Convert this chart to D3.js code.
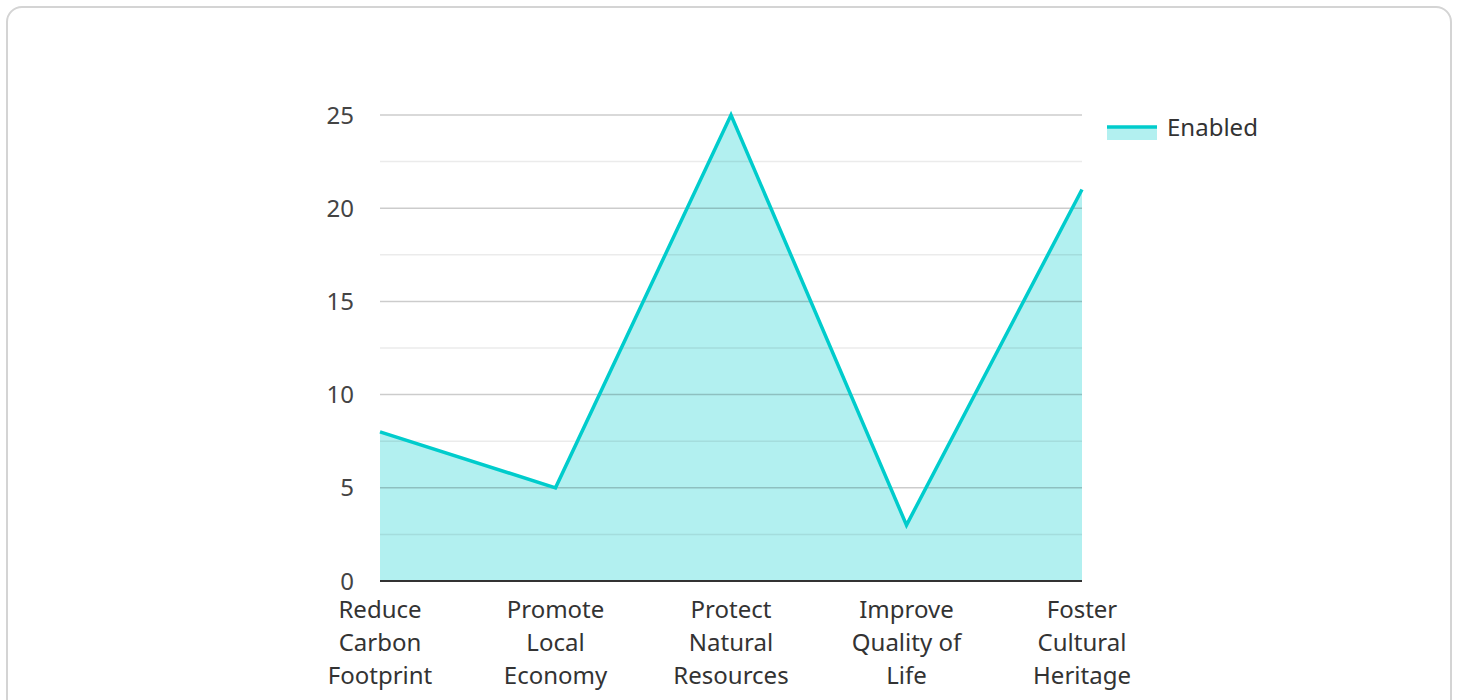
<!DOCTYPE html>
<meta charset="utf-8">
<script src="https://d3js.org/d3.v7.min.js"></script>
<style>
  body { margin: 0; background: #fff; }
  text { font-family: "Noto Sans", sans-serif; }
</style>
<div id="chart"></div>
<script>
  // chart data
  const categories = ["Reduce Carbon Footprint", "Promote Local Economy", "Protect Natural Resources", "Improve Quality of Life", "Foster Cultural Heritage"];
  const categoryLines = [["Reduce", "Carbon", "Footprint"], ["Promote", "Local", "Economy"], ["Protect", "Natural", "Resources"], ["Improve", "Quality of", "Life"], ["Foster", "Cultural", "Heritage"]];
  const enabled = [8, 5, 25, 3, 21];
  const yTicks = [0, 5, 10, 15, 20, 25];
  const seriesName = "Enabled";

  const W = 1458, H = 700;
  const margin = { top: 115, left: 380, right: 376, bottom: 119 };
  const width = W - margin.left - margin.right,
        height = H - margin.top - margin.bottom;

  const svg = d3.select("#chart").append("svg")
    .attr("width", W).attr("height", H);

  // card frame
  svg.append("rect")
    .attr("x", 7).attr("y", 7).attr("width", 1444).attr("height", 720)
    .attr("rx", 15).attr("fill", "#fff")
    .attr("stroke", "#d4d4d4").attr("stroke-width", 2);

  const g = svg.append("g").attr("transform", `translate(${margin.left},${margin.top})`);

  const x = d3.scalePoint().domain(categories).range([0, width]);
  const y = d3.scaleLinear().domain([0, 25]).range([height, 0]);

  // area + line
  const area = d3.area()
    .x((d, i) => x(categories[i]))
    .y0(y(0)).y1(d => y(d));
  const line = d3.line()
    .x((d, i) => x(categories[i]))
    .y(d => y(d));

  g.append("path").datum(enabled)
    .attr("d", area).attr("fill", "#00cccc").attr("fill-opacity", 0.3);

  // grid lines (minor + major) drawn over the fill
  const minor = d3.range(2.5, 25, 5);
  g.selectAll(".minor").data(minor).join("line")
    .attr("x1", 0).attr("x2", width)
    .attr("y1", d => y(d)).attr("y2", d => y(d))
    .attr("stroke", "#000").attr("stroke-opacity", 0.08).attr("stroke-width", 1.5);
  g.selectAll(".major").data(yTicks.slice(1)).join("line")
    .attr("x1", 0).attr("x2", width)
    .attr("y1", d => y(d)).attr("y2", d => y(d))
    .attr("stroke", "#000").attr("stroke-opacity", 0.2).attr("stroke-width", 1.5);

  g.append("path").datum(enabled)
    .attr("d", line).attr("fill", "none")
    .attr("stroke", "#00cccc").attr("stroke-width", 3.5)
    .attr("stroke-linejoin", "miter");

  // x axis line
  g.append("line")
    .attr("x1", 0).attr("x2", width)
    .attr("y1", y(0)).attr("y2", y(0))
    .attr("stroke", "#333").attr("stroke-width", 2);

  // y tick labels
  g.selectAll(".ytick").data(yTicks).join("text")
    .attr("x", -26).attr("y", d => y(d)).attr("dy", "0.36em")
    .attr("text-anchor", "end")
    .style("font-size", "24px").style("fill", "#444")
    .text(d => d);

  // x labels (wrapped)
  const xl = g.selectAll(".xlab").data(categories).join("text")
    .attr("text-anchor", "middle")
    .style("font-size", "24px").style("fill", "#333")
    .attr("transform", d => `translate(${x(d)},${height + 37})`);
  xl.each(function (d, i) {
    d3.select(this).selectAll("tspan").data(categoryLines[i]).join("tspan")
      .attr("x", 0).attr("dy", (t, j) => j === 0 ? 0 : 33)
      .text(t => t);
  });

  // legend
  const lg = svg.append("g").attr("transform", "translate(1107,127)");
  lg.append("rect").attr("x", 0).attr("y", 0).attr("width", 50).attr("height", 13)
    .attr("fill", "#00cccc").attr("fill-opacity", 0.3);
  lg.append("line").attr("x1", 0).attr("x2", 50).attr("y1", 0).attr("y2", 0)
    .attr("stroke", "#00cccc").attr("stroke-width", 3.5);
  lg.append("text").attr("x", 60).attr("y", 0).attr("dy", "0.36em")
    .style("font-size", "24px").style("fill", "#333")
    .text(seriesName);
</script>
